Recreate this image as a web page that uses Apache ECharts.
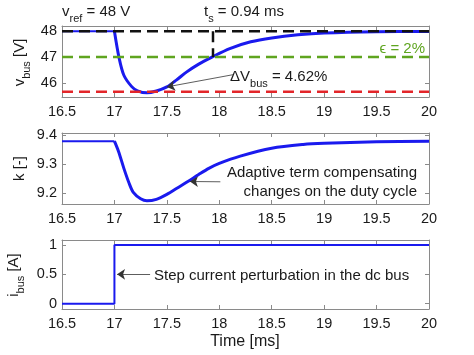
<!DOCTYPE html>
<html><head><meta charset="utf-8">
<script src="https://cdn.jsdelivr.net/npm/echarts@6/dist/echarts.min.js"></script>
<style>html,body{margin:0;padding:0;background:#fff}#c{width:474px;height:355px}</style>
</head><body><div id="c"></div>
<script>
// ---- data ----
const tStart = 16.5, tEnd = 20;
const tV   = [16.5, 17.0, 17.044, 17.09, 17.165, 17.22, 17.31, 17.4, 17.5, 17.59, 17.69, 17.8, 17.93, 18.1, 18.3, 18.5, 18.75, 19.0, 19.5, 20];
const vBus = [48, 48, 46.98, 46.30, 45.86, 45.70, 45.62, 45.69, 45.85, 46.11, 46.43, 46.72, 47.0, 47.33, 47.59, 47.74, 47.86, 47.93, 47.98, 47.99];
const vRef = 48, vBand = 47.0, vMinLine = 45.66, tSettle = 17.94;

const tK   = [16.5, 17.0, 17.04, 17.09, 17.14, 17.18, 17.25, 17.31, 17.4, 17.5, 17.6, 17.7, 17.8, 17.9, 18.0, 18.2, 18.5, 18.8, 19.0, 19.5, 20];
const kVal = [9.378, 9.378, 9.342, 9.285, 9.234, 9.203, 9.181, 9.174, 9.179, 9.196, 9.218, 9.240, 9.263, 9.285, 9.302, 9.327, 9.354, 9.367, 9.371, 9.376, 9.378];

const tI   = [16.5, 17.0, 17.0, 20];
const iBus = [0, 0, 1, 1];

const vTicks = [46, 47, 48];
const kTicks = [9.2, 9.3, 9.4];
const iTicks = [0, 0.5, 1];

// annotation arrows [tail, head] in data units
const arrowV = [[18.13, 46.32], [17.5, 45.85]];
const arrowK = [[18.01, 9.239], [17.72, 9.24]];
const arrowI = [[17.34, 0.5], [17.025, 0.5]];

// ---- styling ----
const FONT = '"Liberation Sans", Arial, sans-serif';
const BOX = '#8a8a8a';
const TXT = '#1a1a1a';
const BLUE = '#1a1aee';
const GREEN = '#5fa520';
const RED = '#e3262a';

const grids = [
  {left: 62, top: 26, width: 367, height: 71},
  {left: 62, top: 133, width: 367, height: 71},
  {left: 62, top: 240, width: 367, height: 69}
];
const yRanges = [[45.46, 48.2], [9.163, 9.406], [-0.09, 1.085]];
const yTickSets = [vTicks, kTicks, iTicks];

const xAxis = [], yAxis = [];
grids.forEach((g, gi) => {
  ['bottom', 'top'].forEach(pos => {
    xAxis.push({
      type: 'value', gridIndex: gi, min: tStart, max: tEnd, interval: 0.5, position: pos,
      axisLine: {show: true, onZero: false, lineStyle: {color: BOX, width: 1}},
      axisTick: {show: true, inside: true, length: 4, lineStyle: {color: BOX}},
      axisLabel: {show: pos === 'bottom', color: TXT, fontSize: 14.5, margin: 7, fontFamily: FONT},
      splitLine: {show: false}
    });
  });
  ['left', 'right'].forEach(pos => {
    yAxis.push({
      type: 'value', gridIndex: gi, min: yRanges[gi][0], max: yRanges[gi][1], position: pos,
      axisLine: {show: true, onZero: false, lineStyle: {color: BOX, width: 1}},
      axisTick: {show: true, inside: true, length: 4, customValues: yTickSets[gi], lineStyle: {color: BOX}},
      axisLabel: {show: pos === 'left', customValues: yTickSets[gi], color: TXT, fontSize: 14.5, margin: 5, fontFamily: FONT},
      splitLine: {show: false}
    });
  });
});

const zip = (a, b) => a.map((x, i) => [x, b[i]]);
const base = {type: 'line', symbol: 'none', showSymbol: false, animation: false, silent: true};
function arrowML(a) {
  return {
    silent: true, animation: false, symbol: ['none', 'arrow'], symbolSize: 8,
    label: {show: false},
    lineStyle: {color: '#333', width: 0.8, type: 'solid'},
    data: [[{coord: a[0]}, {coord: a[1]}]]
  };
}
function ax(gi) { return {xAxisIndex: 2 * gi, yAxisIndex: 2 * gi}; }

const vPts = zip(tV, vBus), kPts = zip(tK, kVal);
const SM = 0.3;
const series = [
  Object.assign({}, base, ax(0), {data: vPts.slice(0, 2), lineStyle: {color: BLUE, width: 2}, z: 2}),
  Object.assign({}, base, ax(0), {data: vPts.slice(1), smooth: SM, lineStyle: {color: BLUE, width: 3}, z: 2, markLine: arrowML(arrowV)}),
  Object.assign({}, base, ax(0), {data: [[tStart, vRef], [tEnd, vRef]], lineStyle: {color: '#111', width: 2.5, type: [11, 6]}, z: 5}),
  Object.assign({}, base, ax(0), {data: [[tSettle, vRef], [tSettle, vBand]], lineStyle: {color: '#111', width: 2.5, type: [11, 6]}, z: 5}),
  Object.assign({}, base, ax(0), {data: [[tStart, vBand], [tEnd, vBand]], lineStyle: {color: GREEN, width: 2.5, type: [11, 6]}, z: 5}),
  Object.assign({}, base, ax(0), {data: [[tStart, vMinLine], [tEnd, vMinLine]], lineStyle: {color: RED, width: 2.5, type: [11, 6]}, z: 5}),
  Object.assign({}, base, ax(1), {data: kPts.slice(0, 2), lineStyle: {color: BLUE, width: 2}, z: 2}),
  Object.assign({}, base, ax(1), {data: kPts.slice(1), smooth: SM, lineStyle: {color: BLUE, width: 3}, z: 2, markLine: arrowML(arrowK)}),
  Object.assign({}, base, ax(2), {data: zip(tI, iBus), lineStyle: {color: BLUE, width: 2}, z: 2, markLine: arrowML(arrowI)})
];

// text with subscripts, built from separate text pieces
const mctx = document.createElement('canvas').getContext('2d');
function tw(s, size) { mctx.font = size + 'px ' + FONT; return mctx.measureText(s).width; }
const MAIN = 15, SUB = 11, SHIFT = 7;
function subText(x, y, parts, align, rotation, color) {
  let total = 0;
  parts.forEach(p => { total += tw(p[0], p[1] ? SUB : MAIN); });
  let cx = align === 'center' ? -total / 2 : 0;
  const children = parts.map(p => {
    const size = p[1] ? SUB : MAIN;
    const el = {type: 'text', x: cx, y: p[1] ? SHIFT : 0, silent: true,
      style: {text: p[0], fontSize: size, fontFamily: FONT, fill: color || TXT, align: 'left', verticalAlign: 'middle'}};
    cx += tw(p[0], size);
    return el;
  });
  return {type: 'group', x: x, y: y, rotation: rotation || 0, silent: true, children: children};
}
function pt(x, y, text, align, size, color) {
  return {type: 'text', x: x, y: y, silent: true, style: {text: text, fill: color || TXT, fontFamily: FONT, fontSize: size || 15, align: align || 'left', verticalAlign: 'middle'}};
}

const graphic = [
  subText(62, 11.5, [['v', 0], ['ref', 1], [' = 48 V', 0]], 'left'),
  subText(204, 11.5, [['t', 0], ['s', 1], [' = 0.94 ms', 0]], 'left'),
  subText(230, 77, [['\u0394V', 0], ['bus', 1], [' = 4.62%', 0]], 'left'),
  pt(425, 49, '\u03f5 = 2%', 'right', 15, GREEN),
  pt(417, 173, 'Adaptive term compensating', 'right'),
  pt(417, 191.5, 'changes on the duty cycle', 'right'),
  pt(154, 276, 'Step current perturbation in the dc bus', 'left'),
  pt(245, 342, 'Time [ms]', 'center', 16),
  subText(20, 62.5, [['v', 0], ['bus', 1], [' [V]', 0]], 'center', Math.PI / 2),
  subText(20, 168.5, [['k [-]', 0]], 'center', Math.PI / 2),
  subText(14, 275, [['i', 0], ['bus', 1], [' [A]', 0]], 'center', Math.PI / 2)
];

const chart = echarts.init(document.getElementById('c'), null, {renderer: 'canvas'});
chart.setOption({
  animation: false,
  backgroundColor: '#ffffff',
  grid: grids,
  xAxis: xAxis,
  yAxis: yAxis,
  series: series,
  graphic: graphic
});
</script>
</body></html>
